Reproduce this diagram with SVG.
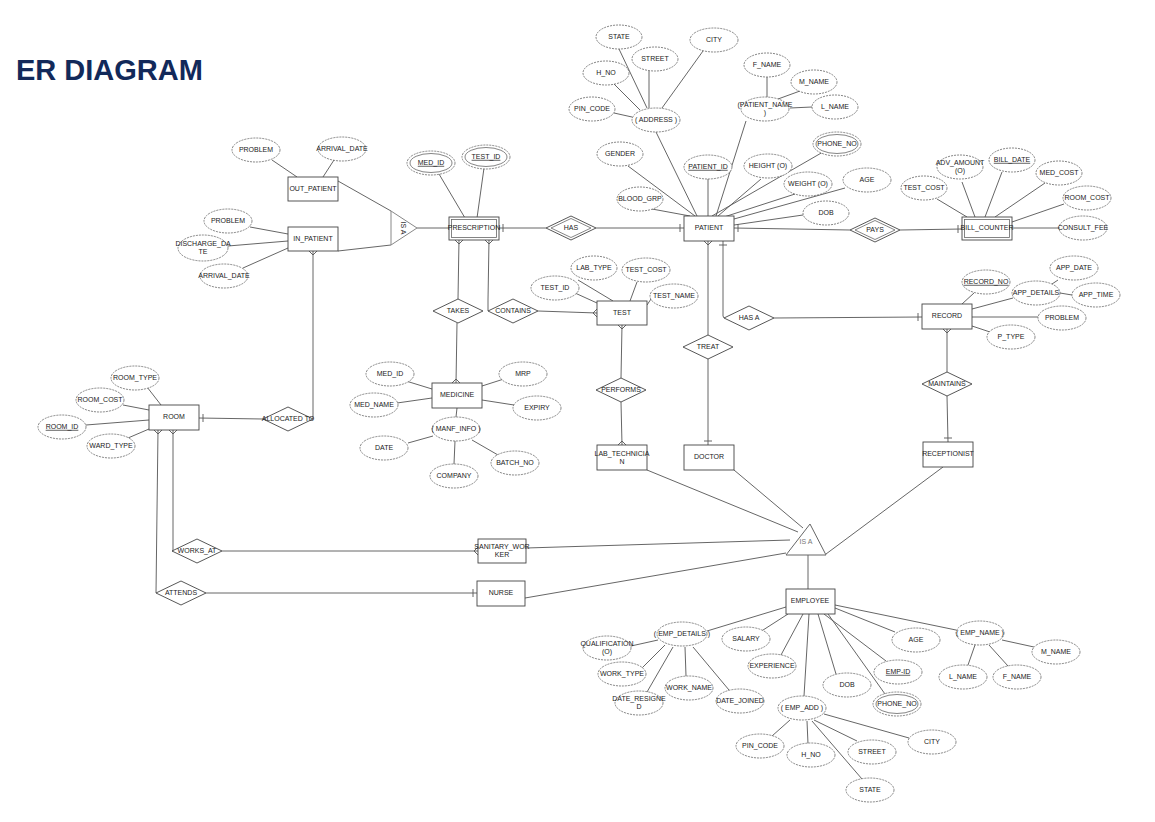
<svg xmlns="http://www.w3.org/2000/svg" width="1155" height="822" viewBox="0 0 1155 822">
<style>
text{font-family:"Liberation Sans",Arial,sans-serif;font-size:7px;fill:#222;text-anchor:middle;dominant-baseline:middle}
.title{font-size:29px;font-weight:bold;fill:#12295a;text-anchor:start;dominant-baseline:auto}
.e{fill:#fff;stroke:#666;stroke-width:.8;stroke-dasharray:2 1}
.m{fill:none;stroke:#666;stroke-width:.8}
.r,.d{fill:#fff;stroke:#444;stroke-width:.9}
.c line,.c path,.c polyline{stroke:#555;stroke-width:.9;fill:none}
.u{text-decoration:underline}
</style>
<rect width="1155" height="822" fill="#fff"/>
<text class="title" x="16" y="80">ER DIAGRAM</text>
<g class="c" id="connectors">
<line x1="297" y1="177" x2="272" y2="160"/><line x1="323" y1="177" x2="334" y2="160"/>
<line x1="288" y1="234" x2="250" y2="227"/><line x1="288" y1="241" x2="228" y2="246"/><line x1="288" y1="248" x2="243" y2="268"/>
<line x1="338" y1="181" x2="391" y2="211"/><line x1="338" y1="251" x2="391" y2="245"/><line x1="417" y1="228" x2="449" y2="228"/>
<line x1="465" y1="218" x2="439" y2="174"/><line x1="477" y1="218" x2="484" y2="168"/>
<line x1="499" y1="228" x2="546" y2="228"/><line x1="596" y1="228" x2="684" y2="228"/>
<line x1="503" y1="224" x2="503" y2="232"/><line x1="680" y1="224" x2="680" y2="232"/>
<line x1="734" y1="228" x2="850" y2="230"/><line x1="900" y1="230" x2="962" y2="229"/>
<line x1="738" y1="224" x2="738" y2="232"/><line x1="958" y1="225" x2="958" y2="233"/>
<line x1="619" y1="49" x2="647" y2="108"/><line x1="649" y1="71" x2="649" y2="108"/><line x1="703" y1="51" x2="662" y2="108"/><line x1="614" y1="84" x2="640" y2="110"/><line x1="614" y1="113" x2="632" y2="117"/>
<line x1="767" y1="77" x2="767" y2="97"/><line x1="800" y1="91" x2="778" y2="99"/><line x1="812" y1="107" x2="790" y2="108"/>
<line x1="656" y1="132" x2="697" y2="216"/><line x1="746" y1="121" x2="716" y2="216"/>
<line x1="628" y1="166" x2="695" y2="216"/><line x1="652" y1="209" x2="690" y2="216"/><line x1="708" y1="179" x2="708" y2="216"/>
<line x1="761" y1="179" x2="718" y2="216"/><line x1="823" y1="152" x2="712" y2="216"/><line x1="795" y1="194" x2="724" y2="217"/><line x1="845" y1="188" x2="734" y2="219"/><line x1="803" y1="215" x2="734" y2="225"/>
<line x1="937" y1="199" x2="967" y2="217"/><line x1="962" y1="182" x2="975" y2="217"/><line x1="1002" y1="172" x2="985" y2="217"/><line x1="1045" y1="183" x2="995" y2="217"/><line x1="1064" y1="204" x2="1012" y2="222"/><line x1="1060" y1="228" x2="1012" y2="228"/>
<line x1="578" y1="280" x2="613" y2="301"/><line x1="637" y1="282" x2="630" y2="301"/><line x1="575" y1="293" x2="597" y2="303"/><line x1="651" y1="299" x2="647" y2="305"/>
<polyline points="489,240 488,300 488,311"/><line x1="538" y1="311" x2="597" y2="313"/>
<path d="M489 244 L485 240 M489 244 L493 240 M593 313 L597 309 M593 313 L597 317"/>
<polyline points="459,240 458,299"/><line x1="457" y1="323" x2="456" y2="383"/>
<path d="M459 244 L455 240 M459 244 L463 240 M456 379 L452 383 M456 379 L460 383"/>
<line x1="622" y1="325" x2="621" y2="378"/><line x1="621" y1="402" x2="622" y2="445"/>
<path d="M622 329 L618 325 M622 329 L626 325 M622 441 L618 445 M622 441 L626 445"/>
<line x1="406" y1="381" x2="432" y2="389"/><line x1="507" y1="378" x2="482" y2="386"/><line x1="397" y1="403" x2="432" y2="398"/><line x1="514" y1="405" x2="482" y2="400"/>
<line x1="456" y1="417" x2="457" y2="408"/><line x1="408" y1="443" x2="433" y2="436"/><line x1="454" y1="464" x2="455" y2="441"/><line x1="498" y1="455" x2="472" y2="440"/>
<line x1="708" y1="241" x2="708" y2="335"/><line x1="708" y1="359" x2="708" y2="445"/>
<path d="M708 245 L704 241 M708 245 L712 241 M704 441 L712 441"/>
<polyline points="723,241 723,316 724,318"/><line x1="774" y1="318" x2="922" y2="317"/>
<path d="M719 245 L727 245 M918 313 L918 321"/>
<line x1="962" y1="304" x2="974" y2="293"/><line x1="972" y1="309" x2="1013" y2="298"/><line x1="1058" y1="280" x2="1052" y2="284"/><line x1="1060" y1="293" x2="1072" y2="295"/><line x1="972" y1="317" x2="1038" y2="317"/><line x1="972" y1="326" x2="990" y2="332"/>
<line x1="947" y1="329" x2="947" y2="372"/><line x1="947" y1="396" x2="948" y2="442"/>
<path d="M947 333 L943 329 M947 333 L951 329 M944 438 L952 438"/>
<line x1="147" y1="387" x2="161" y2="405"/><line x1="123" y1="405" x2="149" y2="410"/><line x1="86" y1="425" x2="149" y2="420"/><line x1="128" y1="438" x2="149" y2="429"/>
<line x1="199" y1="418" x2="263" y2="419"/><polyline points="313,419 313,251"/>
<path d="M203 414 L203 422 M313 255 L309 251 M313 255 L317 251"/>
<polyline points="173,430 173,551 172,551"/><line x1="222" y1="551" x2="478" y2="551"/>
<polyline points="158,430 156,593"/><line x1="206" y1="593" x2="477" y2="593"/>
<path d="M173 434 L169 430 M173 434 L177 430 M158 434 L154 430 M158 434 L162 430 M474 551 L478 547 M474 551 L478 555 M473 589 L473 597"/>
<line x1="647" y1="470" x2="798" y2="532"/><line x1="734" y1="470" x2="803" y2="528"/><line x1="943" y1="467" x2="826" y2="554"/><line x1="526" y1="548" x2="790" y2="540"/><line x1="525" y1="598" x2="786" y2="553"/>
<line x1="808" y1="555" x2="808" y2="589"/>
<line x1="707" y1="631" x2="786" y2="607"/><line x1="631" y1="646" x2="658" y2="640"/><line x1="640" y1="670" x2="665" y2="645"/><line x1="647" y1="692" x2="673" y2="647"/><line x1="686" y1="676" x2="685" y2="647"/><line x1="729" y1="690" x2="693" y2="647"/>
<line x1="760" y1="632" x2="788" y2="614"/><line x1="781" y1="655" x2="803" y2="614"/><line x1="804" y1="696" x2="809" y2="614"/><line x1="836" y1="674" x2="818" y2="614"/><line x1="886" y1="661" x2="824" y2="614"/><line x1="885" y1="694" x2="828" y2="614"/><line x1="895" y1="632" x2="835" y2="608"/><line x1="956" y1="630" x2="835" y2="605"/>
<line x1="1034" y1="647" x2="1002" y2="640"/><line x1="968" y1="665" x2="975" y2="645"/><line x1="1008" y1="666" x2="989" y2="645"/>
<line x1="772" y1="736" x2="790" y2="720"/><line x1="808" y1="744" x2="807" y2="721"/><line x1="857" y1="741" x2="814" y2="720"/><line x1="909" y1="738" x2="824" y2="714"/><line x1="862" y1="779" x2="812" y2="721"/>
</g>
<g id="isa1"><polygon points="391,211 391,245 417,228" fill="#fff" stroke="#888" stroke-width="1"/><text x="403" y="228" transform="rotate(90 403 228)" fill="#777">IS A</text></g>
<g id="isa2"><polygon points="810,524 786,555 826,555" fill="#fff" stroke="#666" stroke-width="1"/><text x="806" y="542" style="fill:#777">IS A</text></g>
<g id="out_patient"><rect class="r" x="288" y="177" width="50" height="24"/><text x="313" y="189">OUT_PATIENT</text></g>
<g id="in_patient"><rect class="r" x="288" y="227" width="50" height="24"/><text x="313" y="239">IN_PATIENT</text></g>
<g id="prescription"><rect class="r" x="449" y="217" width="50" height="23"/><rect class="m" x="451.5" y="219.5" width="45" height="18"/><text x="474" y="228">PRESCRIPTION</text></g>
<g id="patient"><rect class="r" x="684" y="216" width="50" height="25"/><text x="709" y="228">PATIENT</text></g>
<g id="bill_counter"><rect class="r" x="962" y="217" width="50" height="23"/><rect class="m" x="964.5" y="219.5" width="45" height="18"/><text x="987" y="228">BILL_COUNTER</text></g>
<g id="test"><rect class="r" x="597" y="301" width="50" height="24"/><text x="622" y="313">TEST</text></g>
<g id="record"><rect class="r" x="922" y="304" width="50" height="25"/><text x="947" y="316">RECORD</text></g>
<g id="medicine"><rect class="r" x="432" y="383" width="50" height="25"/><text x="457" y="395">MEDICINE</text></g>
<g id="lab_technician"><rect class="r" x="597" y="445" width="50" height="25"/><text x="622" y="454">LAB_TECHNICIA</text><text x="622" y="462">N</text></g>
<g id="doctor"><rect class="r" x="684" y="445" width="50" height="25"/><text x="709" y="457">DOCTOR</text></g>
<g id="receptionist"><rect class="r" x="923" y="442" width="50" height="25"/><text x="948" y="454">RECEPTIONIST</text></g>
<g id="room"><rect class="r" x="149" y="405" width="50" height="25"/><text x="174" y="417">ROOM</text></g>
<g id="sanitary_worker"><rect class="r" x="478" y="539" width="48" height="24"/><text x="502" y="547">SANITARY_WOR</text><text x="502" y="555">KER</text></g>
<g id="nurse"><rect class="r" x="477" y="581" width="48" height="25"/><text x="501" y="593">NURSE</text></g>
<g id="employee"><rect class="r" x="786" y="589" width="49" height="25"/><text x="810" y="601">EMPLOYEE</text></g>
<g id="r_has"><polygon class="d" points="546,228 571,216 596,228 571,240"/><polygon class="m" points="551,228 571,218.5 591,228 571,237.5"/><text x="571" y="228">HAS</text></g>
<g id="r_pays"><polygon class="d" points="850,230 875,218 900,230 875,242"/><polygon class="m" points="855,230 875,220.5 895,230 875,239.5"/><text x="875" y="230">PAYS</text></g>
<g id="r_takes"><polygon class="d" points="433,311 458,299 483,311 458,323"/><text x="458" y="311">TAKES</text></g>
<g id="r_contains"><polygon class="d" points="488,311 513,299 538,311 513,323"/><text x="513" y="311">CONTAINS</text></g>
<g id="r_hasa"><polygon class="d" points="724,318 749,306 774,318 749,330"/><text x="749" y="318">HAS A</text></g>
<g id="r_treat"><polygon class="d" points="683,347 708,335 733,347 708,359"/><text x="708" y="347">TREAT</text></g>
<g id="r_performs"><polygon class="d" points="596,390 621,378 646,390 621,402"/><text x="621" y="390">PERFORMS</text></g>
<g id="r_maintains"><polygon class="d" points="922,384 947,372 972,384 947,396"/><text x="947" y="384">MAINTAINS</text></g>
<g id="r_allocated"><polygon class="d" points="263,419 288,407 313,419 288,431"/><text x="288" y="419">ALLOCATED TO</text></g>
<g id="r_works"><polygon class="d" points="172,551 197,539 222,551 197,563"/><text x="197" y="551">WORKS_AT</text></g>
<g id="r_attends"><polygon class="d" points="156,593 181,581 206,593 181,605"/><text x="181" y="593">ATTENDS</text></g>
<g id="attributes">
<g><ellipse class="e" cx="256" cy="150" rx="24" ry="12"/><text x="256" y="150">PROBLEM</text></g>
<g><ellipse class="e" cx="342" cy="149" rx="24" ry="12"/><text x="342" y="149">ARRIVAL_DATE</text></g>
<g><ellipse class="e" cx="228" cy="221" rx="24" ry="12"/><text x="228" y="221">PROBLEM</text></g>
<g><ellipse class="e" cx="203" cy="248" rx="25" ry="13"/><text x="203" y="244">DISCHARGE_DA</text><text x="203" y="252">TE</text></g>
<g><ellipse class="e" cx="224" cy="276" rx="24" ry="12"/><text x="224" y="276">ARRIVAL_DATE</text></g>
<g><ellipse class="e" cx="431" cy="163" rx="24" ry="12"/><ellipse class="m" cx="431" cy="163" rx="21" ry="9.5"/><text x="431" y="163" class="u">MED_ID</text></g>
<g><ellipse class="e" cx="486" cy="157" rx="24" ry="12"/><ellipse class="m" cx="486" cy="157" rx="21" ry="9.5"/><text x="486" y="157" class="u">TEST_ID</text></g>
<g><ellipse class="e" cx="619" cy="37" rx="23" ry="12"/><text x="619" y="37">STATE</text></g>
<g><ellipse class="e" cx="655" cy="59" rx="23" ry="12"/><text x="655" y="59">STREET</text></g>
<g><ellipse class="e" cx="714" cy="40" rx="24" ry="12"/><text x="714" y="40">CITY</text></g>
<g><ellipse class="e" cx="606" cy="73" rx="23" ry="12"/><text x="606" y="73">H_NO</text></g>
<g><ellipse class="e" cx="592" cy="109" rx="23" ry="12"/><text x="592" y="109">PIN_CODE</text></g>
<g><ellipse class="e" cx="656" cy="120" rx="24" ry="12"/><text x="656" y="120">( ADDRESS )</text></g>
<g><ellipse class="e" cx="767" cy="65" rx="23" ry="12"/><text x="767" y="65">F_NAME</text></g>
<g><ellipse class="e" cx="814" cy="82" rx="23" ry="12"/><text x="814" y="82">M_NAME</text></g>
<g><ellipse class="e" cx="765" cy="109" rx="24" ry="12"/><text x="765" y="105">(PATIENT_NAME</text><text x="765" y="113">)</text></g>
<g><ellipse class="e" cx="835" cy="107" rx="23" ry="12"/><text x="835" y="107">L_NAME</text></g>
<g><ellipse class="e" cx="620" cy="154" rx="23" ry="12"/><text x="620" y="154">GENDER</text></g>
<g><ellipse class="e" cx="640" cy="199" rx="23" ry="12"/><text x="640" y="199">BLOOD_GRP</text></g>
<g><ellipse class="e" cx="708" cy="167" rx="24" ry="12"/><text x="708" y="167" class="u">PATIENT_ID</text></g>
<g><ellipse class="e" cx="768" cy="166" rx="24" ry="12"/><text x="768" y="166">HEIGHT (O)</text></g>
<g><ellipse class="e" cx="808" cy="184" rx="24" ry="12"/><text x="808" y="184">WEIGHT (O)</text></g>
<g><ellipse class="e" cx="837" cy="144" rx="24" ry="12"/><ellipse class="m" cx="837" cy="144" rx="21" ry="9.5"/><text x="837" y="144">PHONE_NO</text></g>
<g><ellipse class="e" cx="867" cy="180" rx="24" ry="12"/><text x="867" y="180">AGE</text></g>
<g><ellipse class="e" cx="826" cy="213" rx="23" ry="12"/><text x="826" y="213">DOB</text></g>
<g><ellipse class="e" cx="924" cy="188" rx="23" ry="12"/><text x="924" y="188">TEST_COST</text></g>
<g><ellipse class="e" cx="960" cy="167" rx="23" ry="12"/><text x="960" y="163">ADV_AMOUNT</text><text x="960" y="171">(O)</text></g>
<g><ellipse class="e" cx="1012" cy="160" rx="23" ry="12"/><text x="1012" y="160" class="u">BILL_DATE</text></g>
<g><ellipse class="e" cx="1059" cy="173" rx="23" ry="12"/><text x="1059" y="173">MED_COST</text></g>
<g><ellipse class="e" cx="1087" cy="198" rx="24" ry="12"/><text x="1087" y="198">ROOM_COST</text></g>
<g><ellipse class="e" cx="1083" cy="228" rx="24" ry="12"/><text x="1083" y="228">CONSULT_FEE</text></g>
<g><ellipse class="e" cx="594" cy="268" rx="23" ry="12"/><text x="594" y="268">LAB_TYPE</text></g>
<g><ellipse class="e" cx="646" cy="270" rx="24" ry="12"/><text x="646" y="270">TEST_COST</text></g>
<g><ellipse class="e" cx="555" cy="288" rx="24" ry="12"/><text x="555" y="288">TEST_ID</text></g>
<g><ellipse class="e" cx="674" cy="296" rx="24" ry="12"/><text x="674" y="296">TEST_NAME</text></g>
<g><ellipse class="e" cx="390" cy="374" rx="24" ry="12"/><text x="390" y="374">MED_ID</text></g>
<g><ellipse class="e" cx="523" cy="374" rx="24" ry="12"/><text x="523" y="374">MRP</text></g>
<g><ellipse class="e" cx="374" cy="405" rx="24" ry="12"/><text x="374" y="405">MED_NAME</text></g>
<g><ellipse class="e" cx="537" cy="408" rx="24" ry="12"/><text x="537" y="408">EXPIRY</text></g>
<g><ellipse class="e" cx="456" cy="429" rx="24" ry="12"/><text x="456" y="429">( MANF_INFO )</text></g>
<g><ellipse class="e" cx="384" cy="448" rx="24" ry="12"/><text x="384" y="448">DATE</text></g>
<g><ellipse class="e" cx="454" cy="476" rx="24" ry="12"/><text x="454" y="476">COMPANY</text></g>
<g><ellipse class="e" cx="515" cy="463" rx="24" ry="12"/><text x="515" y="463">BATCH_NO</text></g>
<g><ellipse class="e" cx="986" cy="282" rx="24" ry="12"/><text x="986" y="282" class="u">RECORD_NO</text></g>
<g><ellipse class="e" cx="1036" cy="293" rx="24" ry="12"/><text x="1036" y="293">APP_DETAILS</text></g>
<g><ellipse class="e" cx="1074" cy="268" rx="24" ry="12"/><text x="1074" y="268">APP_DATE</text></g>
<g><ellipse class="e" cx="1096" cy="295" rx="24" ry="12"/><text x="1096" y="295">APP_TIME</text></g>
<g><ellipse class="e" cx="1062" cy="318" rx="24" ry="12"/><text x="1062" y="318">PROBLEM</text></g>
<g><ellipse class="e" cx="1011" cy="337" rx="24" ry="12"/><text x="1011" y="337">P_TYPE</text></g>
<g><ellipse class="e" cx="135" cy="378" rx="24" ry="12"/><text x="135" y="378">ROOM_TYPE</text></g>
<g><ellipse class="e" cx="100" cy="400" rx="24" ry="12"/><text x="100" y="400">ROOM_COST</text></g>
<g><ellipse class="e" cx="62" cy="427" rx="24" ry="12"/><text x="62" y="427" class="u">ROOM_ID</text></g>
<g><ellipse class="e" cx="111" cy="446" rx="24" ry="12"/><text x="111" y="446">WARD_TYPE</text></g>
<g><ellipse class="e" cx="682" cy="634" rx="25" ry="12"/><text x="682" y="634">( EMP_DETAILS )</text></g>
<g><ellipse class="e" cx="607" cy="648" rx="24" ry="12"/><text x="607" y="644">QUALIFICATION</text><text x="607" y="652">(O)</text></g>
<g><ellipse class="e" cx="622" cy="674" rx="24" ry="12"/><text x="622" y="674">WORK_TYPE</text></g>
<g><ellipse class="e" cx="639" cy="703" rx="24" ry="12"/><text x="639" y="699">DATE_RESIGNE</text><text x="639" y="707">D</text></g>
<g><ellipse class="e" cx="689" cy="688" rx="24" ry="12"/><text x="689" y="688">WORK_NAME</text></g>
<g><ellipse class="e" cx="740" cy="701" rx="24" ry="12"/><text x="740" y="701">DATE_JOINED</text></g>
<g><ellipse class="e" cx="746" cy="639" rx="24" ry="12"/><text x="746" y="639">SALARY</text></g>
<g><ellipse class="e" cx="772" cy="666" rx="24" ry="12"/><text x="772" y="666">EXPERIENCE</text></g>
<g><ellipse class="e" cx="802" cy="708" rx="24" ry="12"/><text x="802" y="708">( EMP_ADD )</text></g>
<g><ellipse class="e" cx="847" cy="685" rx="24" ry="12"/><text x="847" y="685">DOB</text></g>
<g><ellipse class="e" cx="898" cy="672" rx="24" ry="12"/><text x="898" y="672" class="u">EMP-ID</text></g>
<g><ellipse class="e" cx="897" cy="704" rx="24" ry="12"/><ellipse class="m" cx="897" cy="704" rx="21" ry="9.5"/><text x="897" y="704">PHONE_NO</text></g>
<g><ellipse class="e" cx="916" cy="640" rx="24" ry="12"/><text x="916" y="640">AGE</text></g>
<g><ellipse class="e" cx="980" cy="633" rx="24" ry="12"/><text x="980" y="633">( EMP_NAME )</text></g>
<g><ellipse class="e" cx="1056" cy="652" rx="24" ry="12"/><text x="1056" y="652">M_NAME</text></g>
<g><ellipse class="e" cx="963" cy="677" rx="24" ry="12"/><text x="963" y="677">L_NAME</text></g>
<g><ellipse class="e" cx="1017" cy="677" rx="24" ry="12"/><text x="1017" y="677">F_NAME</text></g>
<g><ellipse class="e" cx="760" cy="746" rx="24" ry="12"/><text x="760" y="746">PIN_CODE</text></g>
<g><ellipse class="e" cx="811" cy="755" rx="24" ry="12"/><text x="811" y="755">H_NO</text></g>
<g><ellipse class="e" cx="872" cy="752" rx="24" ry="12"/><text x="872" y="752">STREET</text></g>
<g><ellipse class="e" cx="932" cy="742" rx="24" ry="12"/><text x="932" y="742">CITY</text></g>
<g><ellipse class="e" cx="870" cy="790" rx="24" ry="12"/><text x="870" y="790">STATE</text></g>
</g>
</svg>
